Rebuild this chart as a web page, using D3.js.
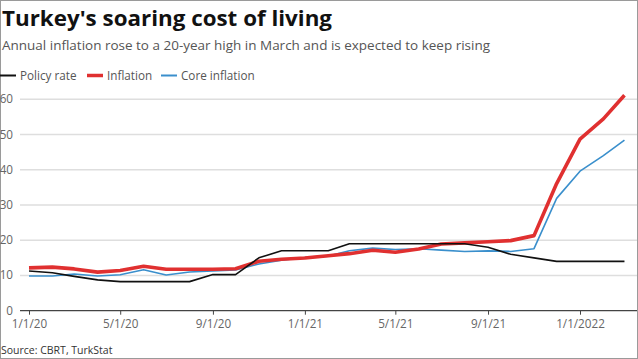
<!DOCTYPE html>
<html><head><meta charset="utf-8">
<script src="https://cdn.jsdelivr.net/npm/d3@7"></script>
<style>
html,body{margin:0;padding:0;background:#fff;}
svg{display:block;}
</style></head>
<body>
<script>
const months = ["2020-01","2020-02","2020-03","2020-04","2020-05","2020-06","2020-07","2020-08","2020-09","2020-10","2020-11","2020-12",
"2021-01","2021-02","2021-03","2021-04","2021-05","2021-06","2021-07","2021-08","2021-09","2021-10","2021-11","2021-12",
"2022-01","2022-02","2022-03"];
const policyRate = [11.25,10.75,9.75,8.75,8.25,8.25,8.25,8.25,10.25,10.25,15,17,17,17,19,19,19,19,19,19,18,16,15,14,14,14,14];
const inflation = [12.15,12.37,11.86,10.94,11.39,12.62,11.76,11.77,11.75,11.89,14.03,14.6,14.97,15.61,16.19,17.14,16.59,17.53,18.95,19.25,19.58,19.89,21.31,36.08,48.69,54.44,61.14];
const coreInflation = [9.86,9.84,10.42,9.84,10.22,11.6,10.14,10.99,11.31,11.59,13.24,14.31,15.1,15.5,17.0,17.76,17.37,17.6,17.2,16.8,16.98,16.82,17.6,31.88,39.6,44.0,48.39];
const xTicks = ["2020-01","2020-05","2020-09","2021-01","2021-05","2021-09","2022-01"];
const xTickLabels = ["1/1/20","5/1/20","9/1/20","1/1/21","5/1/21","9/1/21","1/1/2022"];
const yTicks = [0,10,20,30,40,50,60];
const seriesNames = ["Policy rate","Inflation","Core inflation"];
const seriesColors = ["#111111","#e03030","#3a8fcc"];

const W = 638, H = 359;
const parse = d3.timeParse("%Y-%m");
const dates = months.map(parse);
const svg = d3.select("body").append("svg").attr("width", W).attr("height", H);

// frame
svg.append("rect").attr("x",0.5).attr("y",0.5).attr("width",W-1).attr("height",H-1)
  .attr("fill","none").attr("stroke","#9a9a9a").attr("stroke-width",1);

const font = "'Open Sans', sans-serif";
svg.append("text").attr("x",2).attr("y",26).text("Turkey's soaring cost of living")
  .attr("font-family",font).attr("font-weight",700).attr("font-size",20.5).attr("fill","#111")
  .attr("textLength",330).attr("lengthAdjust","spacingAndGlyphs");
svg.append("text").attr("x",2).attr("y",50).text("Annual inflation rose to a 20-year high in March and is expected to keep rising")
  .attr("font-family",font).attr("font-size",13.3).attr("fill","#555")
  .attr("textLength",488).attr("lengthAdjust","spacingAndGlyphs");

// legend
const legX = [0, 87, 161];
const leg = svg.append("g");
seriesNames.forEach((n,i)=>{
  leg.append("line").attr("x1",legX[i]).attr("x2",legX[i]+16).attr("y1",75.5).attr("y2",75.5)
    .attr("stroke",seriesColors[i]).attr("stroke-width", i===1?3.5:2);
  leg.append("text").attr("x",legX[i]+20).attr("y",79.5).text(n)
    .attr("font-family",font).attr("font-size",11.7).attr("fill","#555");
});

const x = d3.scaleTime().domain([parse("2020-01"), parse("2022-01")]).range([29, 580]);
const y = d3.scaleLinear().domain([0,60]).range([310.7, 99.3]);

// grid
const grid = svg.append("g");
yTicks.filter(t=>t>0).forEach(t=>{
  grid.append("line").attr("x1",20).attr("x2",W-1).attr("y1",y(t)).attr("y2",y(t))
    .attr("stroke","#dedede").attr("stroke-width",1.5);
});
// y labels
yTicks.forEach(t=>{
  svg.append("text").attr("x",13).attr("y",y(t)+4).attr("text-anchor","end").text(t)
    .attr("font-family",font).attr("font-size",11.7).attr("fill","#666");
});

// x axis
const xAxis = d3.axisBottom(x).tickValues(xTicks.map(parse)).tickFormat((d,i)=>xTickLabels[i]).tickSize(4).tickSizeOuter(0);
const gx = svg.append("g").attr("transform",`translate(0,${y(0)})`).call(xAxis);
gx.select(".domain").remove();
gx.append("line").attr("x1",20).attr("x2",W-1).attr("y1",0).attr("y2",0).attr("stroke","#444").attr("stroke-width",1.2);
gx.selectAll(".tick line").attr("stroke","#444");
gx.selectAll(".tick text").attr("font-family",font).attr("font-size",11.7).attr("fill","#666").attr("dy","0.9em");

const line = d3.line().x((d,i)=>x(dates[i])).y(d=>y(d));
const draw = (data,color,w)=>svg.append("path").datum(data).attr("d",line)
  .attr("fill","none").attr("stroke",color).attr("stroke-width",w).attr("stroke-linejoin","round");
draw(coreInflation, seriesColors[2], 1.6);
draw(inflation, seriesColors[1], 3.6);
draw(policyRate, seriesColors[0], 1.6);

svg.append("text").attr("x",1).attr("y",354).text("Source: CBRT, TurkStat")
  .attr("font-family",font).attr("font-size",10.5).attr("fill","#333");
</script>
</body></html>
